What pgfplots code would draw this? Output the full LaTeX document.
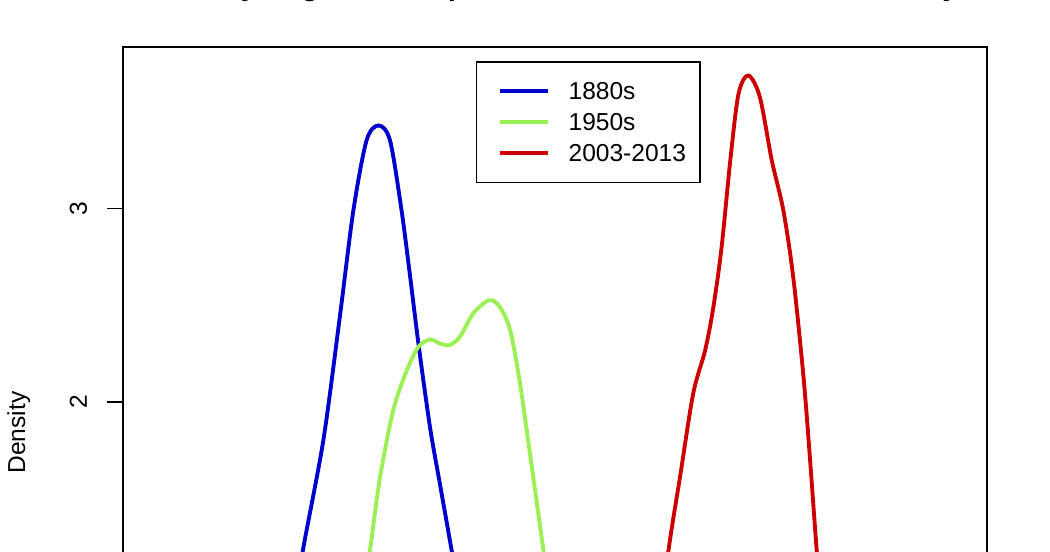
\documentclass[border=0pt]{standalone}
\usepackage{fontspec}
\setmainfont{Liberation Sans}
\usepackage{pgfplots}
\pgfplotsset{compat=1.18}
\definecolor{bblue}{RGB}{0,0,205}
\definecolor{ggreen}{RGB}{155,240,85}
\definecolor{rred}{RGB}{205,0,0}
\newcommand\rfont{\fontsize{18.4}{22}\selectfont}

\begin{document}
\begin{tikzpicture}
\useasboundingbox (0,0) rectangle (787.5pt,-413.25pt);
\clip (0,0) rectangle (787.5pt,-413.25pt);
\begin{axis}[
  at={(92.25pt,-35.25pt)}, anchor=north west,
  scale only axis, width=648pt, height=578.25pt,
  xmin=-0.92, xmax=1.18, ymin=-0.147, ymax=3.833,
  axis line style={line width=1.1pt},
  xtick={-0.5,0,0.5,1}, ytick={0,1,2,3},
  xtick pos=bottom, ytick pos=left,
  tick align=outside, major tick length=12pt,
  tick style={line width=1.1pt, black},
  tick label style={font=\rfont},
  /pgf/number format/assume math mode=true,
  yticklabel style={rotate=90, anchor=base, yshift=15pt},
  ylabel={Density},
  label style={font=\rfont},
  ylabel style={at={(rel axis cs:-0.1134,0.5)}, anchor=base},
  title={Density of global temperatures, 1880s vs. 1950s vs. today},
  title style={font=\bfseries\fontsize{22}{27}\selectfont, at={(0.5,1)}, anchor=base, yshift=32.5pt},
  legend style={at={(0.4086,0.9818)}, anchor=north west, draw=black, line width=1.1pt,
    inner xsep=10.5pt, inner ysep=15.4pt, row sep=10pt, column sep=14.25pt,
    nodes={inner sep=0pt, text height=13.2pt, text depth=0pt}, font=\rfont},
  legend cell align=left,
  legend image code/.code={\path (0pt,0pt); \draw[#1] (5.25pt,0pt) -- (41.25pt,0pt);},
]
% 1880s
\addplot[bblue, line width=2.9pt, smooth, tension=0.5] coordinates {
 (-0.78,0) (-0.68,0.03) (-0.61,0.14) (-0.56,0.38) (-0.52,0.75)
 (-0.483,1.232) (-0.433,1.804) (-0.393,2.440) (-0.360,2.990) (-0.328,3.351)
 (-0.299,3.428) (-0.271,3.351) (-0.243,2.990) (-0.222,2.646) (-0.202,2.303)
 (-0.174,1.873) (-0.150,1.581) (-0.121,1.232)
 (-0.09,0.85) (-0.05,0.45) (0.00,0.17) (0.06,0.04) (0.15,0)};
% 1950s
\addplot[ggreen, line width=2.9pt, smooth, tension=0.5] coordinates {
 (-0.60,0) (-0.50,0.03) (-0.44,0.13) (-0.39,0.40) (-0.35,0.80)
 (-0.320,1.232) (-0.295,1.615) (-0.263,1.959) (-0.230,2.165) (-0.202,2.285)
 (-0.174,2.323) (-0.150,2.303) (-0.127,2.294) (-0.101,2.337) (-0.069,2.457)
 (-0.030,2.526) (-0.004,2.491) (0.021,2.371) (0.045,2.096) (0.069,1.736)
 (0.102,1.232)
 (0.13,0.80) (0.17,0.40) (0.22,0.13) (0.28,0.03) (0.38,0)};
% 2003-2013
\addplot[rred, line width=2.9pt, smooth, tension=0.5] coordinates {
 (0.25,0) (0.30,0.05) (0.34,0.22) (0.375,0.70)
 (0.406,1.237) (0.434,1.615) (0.466,2.045) (0.495,2.268) (0.515,2.491)
 (0.535,2.801) (0.556,3.247) (0.576,3.591) (0.600,3.686) (0.628,3.574)
 (0.657,3.247) (0.685,2.990) (0.709,2.646) (0.734,2.130) (0.750,1.701)
 (0.766,1.237)
 (0.785,0.75) (0.81,0.30) (0.85,0.08) (0.92,0)};
\legend{1880s,1950s,2003-2013}
\end{axis}
\end{tikzpicture}
\end{document}
